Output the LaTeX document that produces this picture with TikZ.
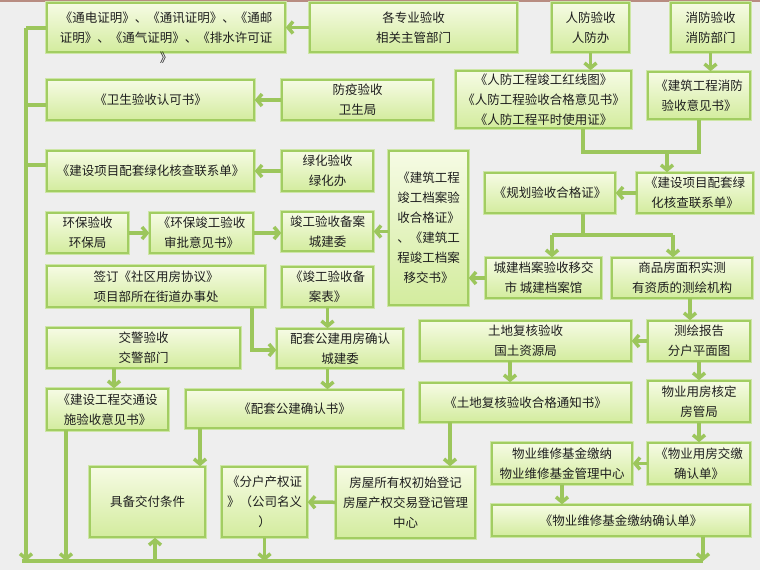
\documentclass[tikz,border=0pt]{standalone}
\usepackage{fontspec}
\newfontfamily\cjk{Noto Sans CJK SC}
\usetikzlibrary{arrows.meta}
\definecolor{bgcol}{HTML}{EEEEEE}
\definecolor{boxline}{HTML}{A2CD62}
\definecolor{boxglow}{HTML}{CDE6A6}
\definecolor{boxtop}{HTML}{F6FBE4}
\definecolor{boxbot}{HTML}{D3EC9E}
\definecolor{linkcol}{HTML}{9CC65C}
\definecolor{txtcol}{HTML}{1E1E1E}
\definecolor{topcol}{HTML}{B88C82}
\begin{document}
\begin{tikzpicture}[x=1pt,y=-1pt,
  box/.style 2 args={draw=boxline, line width=1.5pt, preaction={draw=boxglow, line width=4pt}, top color=boxtop, bottom color=boxbot, inner sep=1pt, align=center, text=txtcol, font=\cjk\fontsize{12.5}{20}\selectfont, minimum width=#1, minimum height=#2},
  txt/.style={inner sep=1pt, align=center, text=txtcol, font=\cjk\fontsize{12.5}{20}\selectfont},
  link/.style={draw=linkcol, line width=3.5pt},
  arr/.style={link, -{Straight Barb[length=5pt,width=12pt]}}]
\useasboundingbox (0,0) rectangle (760,570);
\fill[bgcol] (0,0) rectangle (760,570);
\fill[topcol] (0,0) rectangle (760,1.5);
\node[box={238}{49}] (tongdian) at (166,27.5){};
\node[txt] (tongdiantxt) at (166,38){《通电证明》、《通讯证明》、《通邮\\证明》、《通气证明》、《排水许可证\\》};
\node[box={207}{49}] (zhuanye) at (413.5,27.5){各专业验收\\相关主管部门};
\node[box={207}{40}] (weisheng) at (150.5,100){《卫生验收认可书》};
\node[box={151}{40}] (fangyi) at (357.5,100){防疫验收\\卫生局};
\node[box={207}{40}] (lvhuadan) at (150.5,171){《建设项目配套绿化核查联系单》};
\node[box={91}{40}] (lvhua) at (327.5,171){绿化验收\\绿化办};
\node[box={77}{49}] (renfang) at (590.5,27.5){人防验收\\人防办};
\node[box={79}{49}] (xiaofang) at (710.5,27.5){消防验收\\消防部门};
\node[box={175}{57}] (renfangshu) at (543.5,99.5){《人防工程竣工红线图》\\《人防工程验收合格意见书》\\《人防工程平时使用证》};
\node[box={102}{47}] (xiaofangshu) at (699,95.5){《建筑工程消防\\验收意见书》};
\node[box={116}{40}] (lvhuadan2) at (695,193){《建设项目配套绿\\化核查联系单》};
\node[box={130}{40}] (guihua) at (550,193){《规划验收合格证》};
\node[box={115}{40}] (dangan) at (543.5,278){城建档案验收移交\\市 城建档案馆};
\node[box={140}{40}] (mianji) at (682,278){商品房面积实测\\有资质的测绘机构};
\node[box={79}{154}] (danganzheng) at (428.5,228){《建筑工程\\竣工档案验\\收合格证》\\、《建筑工\\程竣工档案\\移交书》};
\node[box={91}{39}] (beian) at (327.5,231.5){竣工验收备案\\城建委};
\node[box={81}{40}] (huanbao) at (87.5,233){环保验收\\环保局};
\node[box={103}{40}] (huanbaoshu) at (201.5,233){《环保竣工验收\\审批意见书》};
\node[box={218}{41}] (shequ) at (156,286.5){签订《社区用房协议》\\项目部所在街道办事处};
\node[box={91}{40}] (beianbiao) at (327.5,287){《竣工验收备\\案表》};
\node[box={126}{39}] (peitao) at (340,348.5){配套公建用房确认\\城建委};
\node[box={193}{40}] (jiaojing) at (143.5,348){交警验收\\交警部门};
\node[box={121}{41}] (jiaotongshu) at (107.5,409.5){《建设工程交通设\\施验收意见书》};
\node[box={217}{38}] (peitaoshu) at (294.5,409){《配套公建确认书》};
\node[box={115}{70}] (jiaofu) at (147.5,502){具备交付条件};
\node[box={85}{70}] (chanquan) at (264.5,502){《分户产权证\\》（公司名义\\）};
\node[box={139}{71}] (dengji) at (405.5,502.5){房屋所有权初始登记\\房屋产权交易登记管理\\中心};
\node[box={211}{40}] (tudi) at (525.5,341){土地复核验收\\国土资源局};
\node[box={102}{40}] (cehui) at (699,341){测绘报告\\分户平面图};
\node[box={211}{39}] (tudishu) at (525.5,402.5){《土地复核验收合格通知书》};
\node[box={102}{41}] (wuye) at (699,401.5){物业用房核定\\房管局};
\node[box={140}{41}] (jijin) at (562,463.5){物业维修基金缴纳\\物业维修基金管理中心};
\node[box={102}{41}] (wuyedan) at (699,463.5){《物业用房交缴\\确认单》};
\node[box={258}{31}] (jijindan) at (621,520.5){《物业维修基金缴纳确认单》};
\coordinate (ijl) at (583,152);
\coordinate (ijk) at (667,152);
\coordinate (lsp) at (583,235);
\coordinate (lspm) at (552,235);
\coordinate (lspn) at (673,235);
\coordinate (sbend) at (252,350);
\coordinate (vwx) at (114,368);
\coordinate (xyx) at (200,428);
\coordinate (tdx) at (450,422);
\coordinate (chx) at (690,298);
\coordinate (tux) at (510,361);
\coordinate (railtop) at (26,28);
\coordinate (railc) at (26,105);
\coordinate (raile) at (26,165);
\coordinate (wbx) at (66,430);
\coordinate (ybx) at (155,561);
\coordinate (busl) at (22,561);
\coordinate (busr) at (703,561);
\draw[arr](zhuanye) -- (tongdian);
\draw[arr](fangyi) -- (weisheng);
\draw[arr](lvhua) -- (lvhuadan);
\draw[arr](renfang.south) -- (renfang.south |- renfangshu.north);
\draw[arr](xiaofang.south) -- (xiaofang.south |- xiaofangshu.north);
\draw[link](ijl |- renfangshu.south) -- (ijl) -- (ijl -| xiaofangshu.south) -- (xiaofangshu.south);
\draw[arr](ijk) -- (ijk |- lvhuadan2.north);
\draw[arr](lvhuadan2) -- (guihua);
\draw[link](lsp |- guihua.south) -- (lsp);
\draw[link](lspm) -- (lspn);
\draw[arr](lspm) -- (lspm |- dangan.north);
\draw[arr](lspn) -- (lspn |- mianji.north);
\draw[arr](dangan.west) -- (dangan.west -| danganzheng.east);
\draw[arr](danganzheng.west |- beian) -- (beian.east);
\draw[arr](huanbao) -- (huanbaoshu);
\draw[arr](huanbaoshu.east) -- (huanbaoshu.east -| beian.west);
\draw[arr](sbend |- shequ.south) -- (sbend) -- (sbend -| peitao.west);
\draw[arr](beianbiao.south) -- (beianbiao.south |- peitao.north);
\draw[arr](beianbiao.south |- peitao.south) -- (beianbiao.south |- peitaoshu.north);
\draw[arr](vwx) -- (vwx |- jiaotongshu.north);
\draw[arr](xyx) -- (xyx |- jiaofu.north);
\draw[arr](dengji) -- (chanquan);
\draw[arr](tdx) -- (tdx |- dengji.north);
\draw[arr](chx) -- (chx |- cehui.north);
\draw[arr](cehui) -- (tudi);
\draw[arr](tux) -- (tux |- tudishu.north);
\draw[arr](cehui) -- (wuye);
\draw[arr](wuye) -- (wuyedan);
\draw[arr](wuyedan) -- (jijin);
\draw[arr](jijin.south) -- (jijin.south |- jijindan.north);
\draw[link](railtop) -- (railtop -| tongdian.west);
\draw[link](railc) -- (railc -| weisheng.west);
\draw[link](raile) -- (raile -| lvhuadan.west);
\draw[arr](railtop) -- (railtop |- busl);
\draw[arr](wbx) -- (wbx |- busl);
\draw[arr](chanquan.south) -- (chanquan.south |- busl);
\draw[arr](jijindan.south -| busr) -- (busr);
\draw[arr](ybx) -- (ybx |- jiaofu.south);
\draw[link](busl) -- (busr);
\end{tikzpicture}
\end{document}
